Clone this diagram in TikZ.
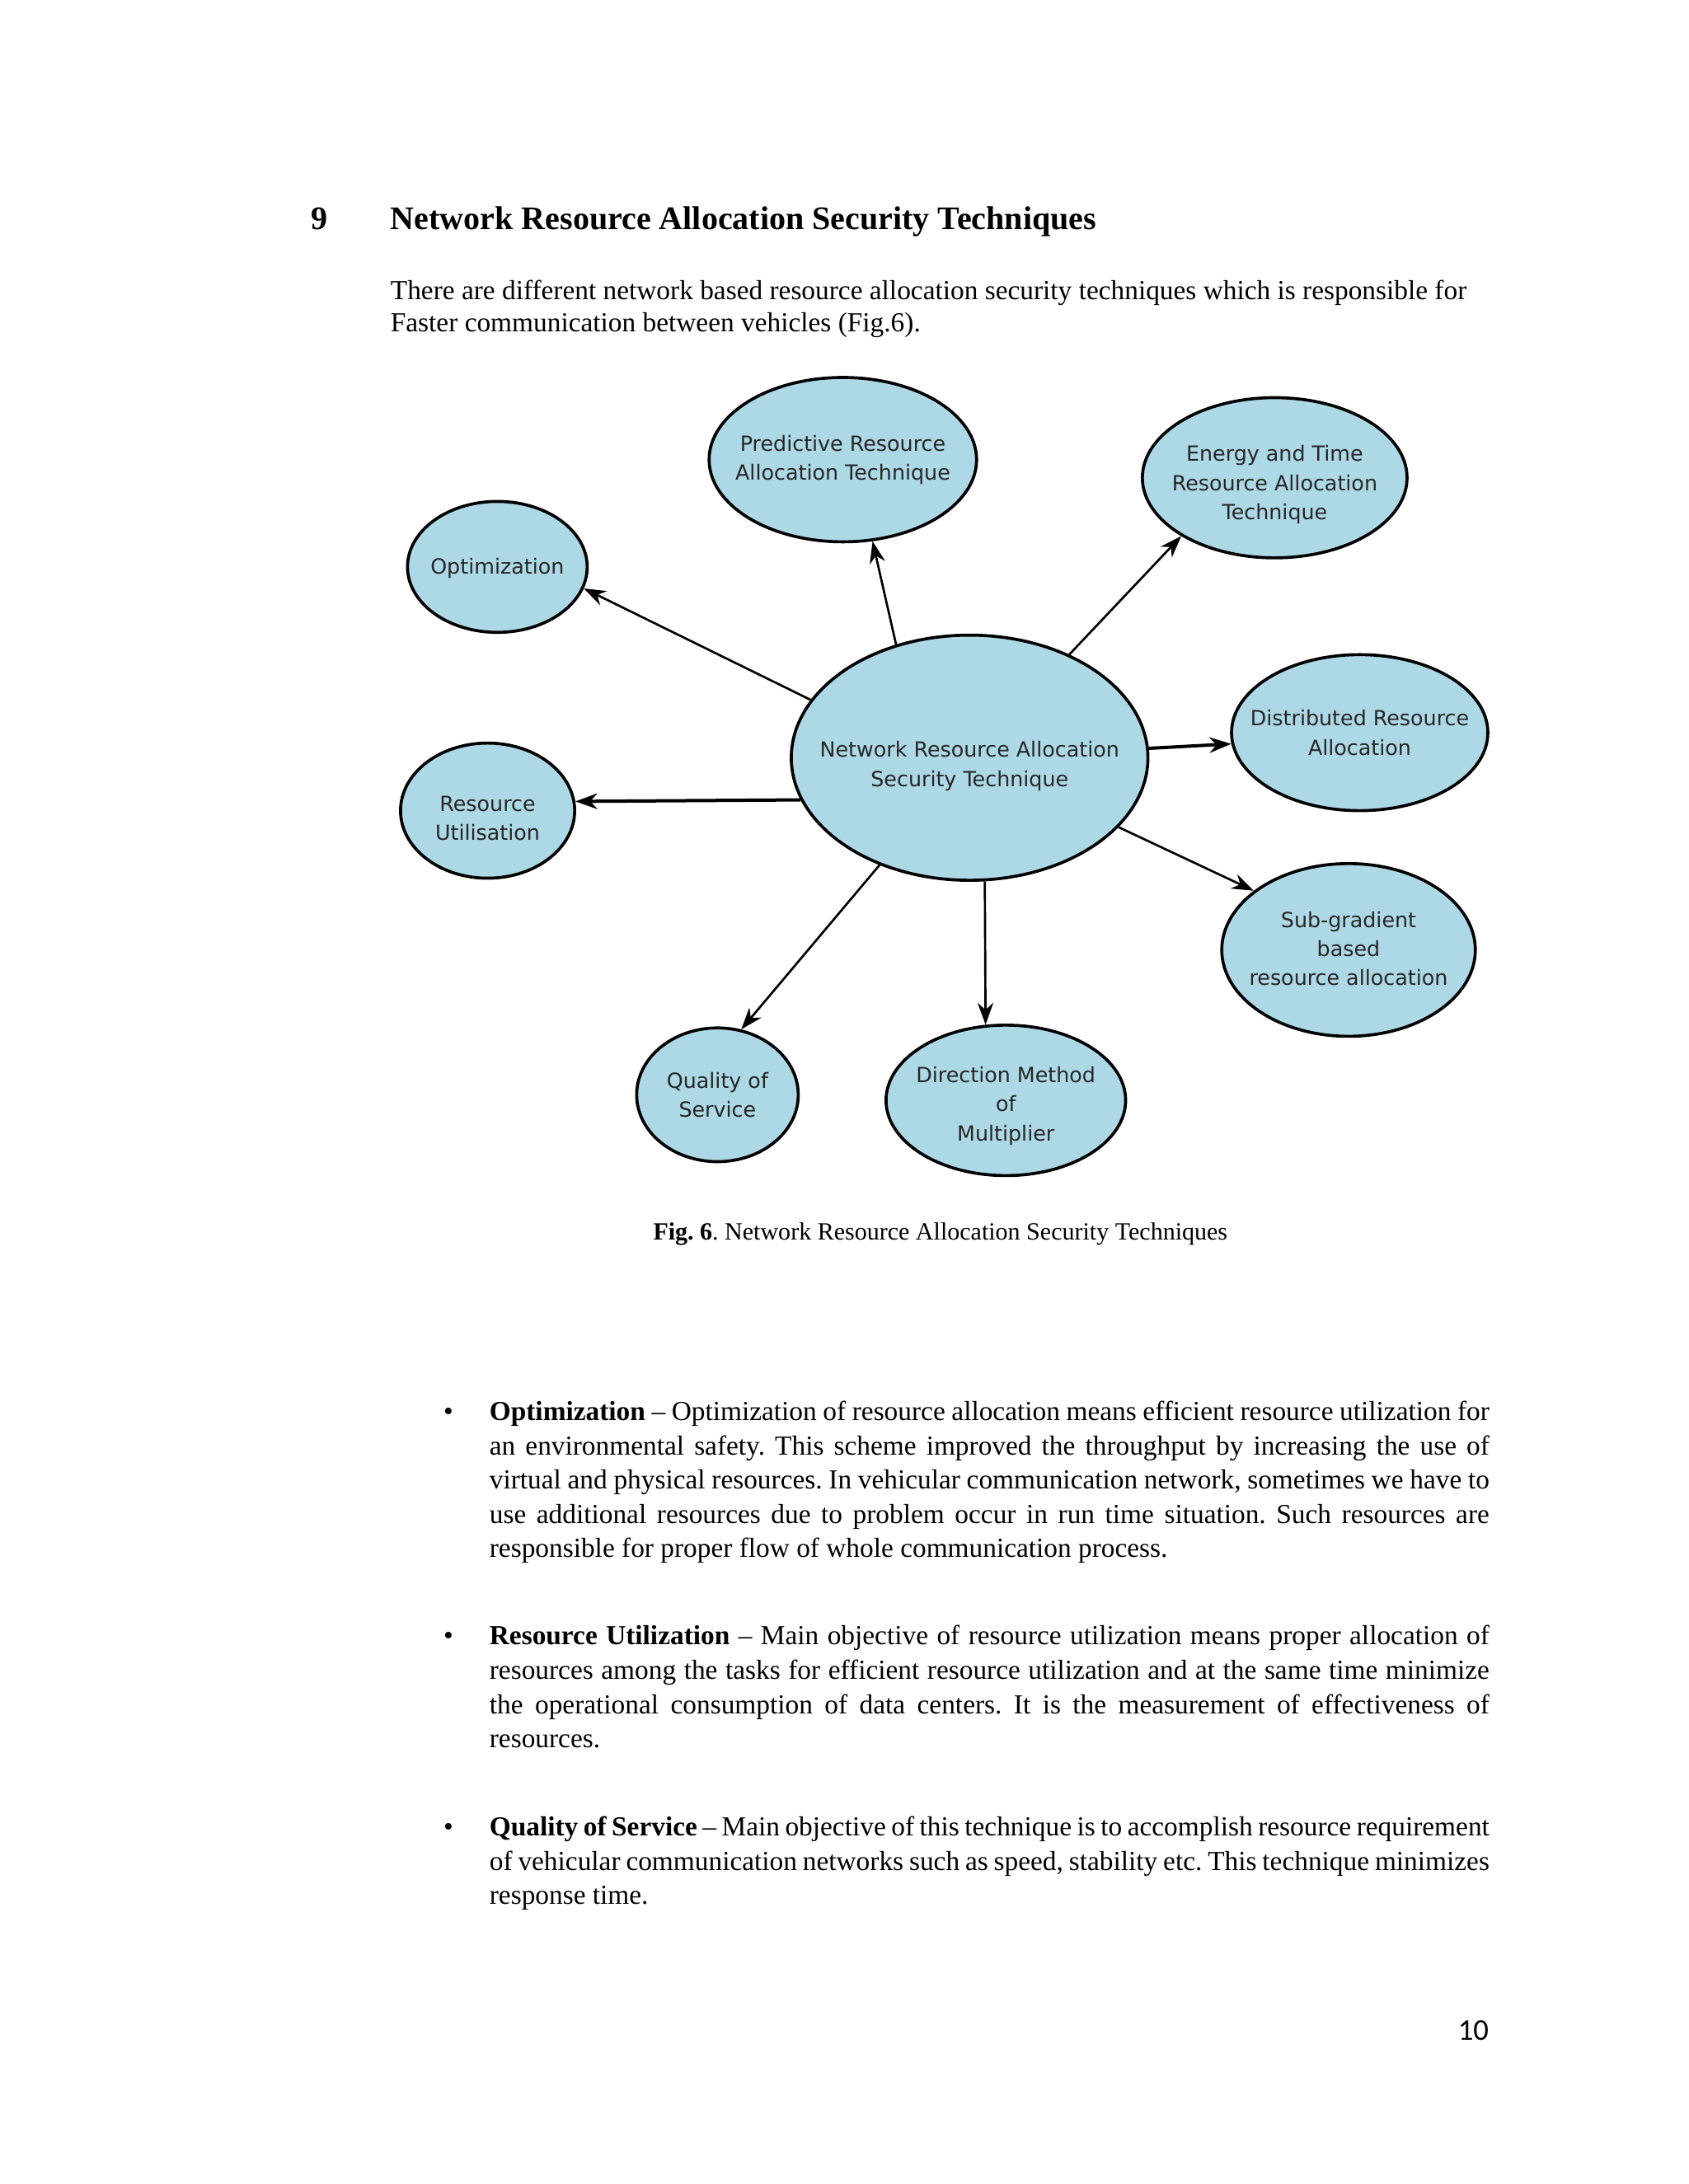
\documentclass[tikz,border=0pt]{standalone}
\usepackage{fontspec}
\setmainfont{Liberation Serif}
\newfontfamily\diagfont{DejaVu Sans}
\newfontfamily\pagefont{Carlito}
\usetikzlibrary{arrows.meta,shapes.geometric}
\definecolor{nodeblue}{HTML}{ADD8E6}
\newcommand{\pxl}{0.017813cm}
\frenchspacing

\begin{document}
\begin{tikzpicture}[x=\pxl,y=-\pxl,
  tech/.style 2 args={ellipse,draw=black,line width=1.1pt,fill=nodeblue,minimum width=#1*\pxl,minimum height=#2*\pxl,inner sep=0pt},
  techtext/.style={font=\diagfont\fontsize{7.6}{10.6}\selectfont,align=center,text=black!85},
  link/.style={-{Stealth[length=2.8mm,width=2mm]},line width=0.8pt},
  heavy/.style={link,line width=1.2pt},
  body/.style={anchor=base west,inner sep=0pt,font=\fontsize{10}{12.45}\selectfont}
]
\useasboundingbox (0,0) rectangle (1212,1568);
\fill[white] (0,0) rectangle (1212,1568);

% heading and intro
\node[body,font=\bfseries\fontsize{12}{14}\selectfont] (secnum) at (223,164.5) {9};
\node[body,font=\bfseries\fontsize{12}{14}\selectfont] (sectitle) at (280,164.5) {Network Resource Allocation Security Techniques};
\node[body,font=\fontsize{10}{11.7}\selectfont] (intro) at (280,215.2) {\parbox[t]{14.2cm}{\raggedright There are different network based resource allocation security techniques which is responsible for\\Faster communication between vehicles (Fig.6).}};

% diagram
\node[tech={256}{176},label={[techtext,yshift=-6*\pxl]center:{Network Resource Allocation\\Security Technique}}] (core) at (696,544) {};
\node[tech={192}{118},label={[techtext]center:{Predictive Resource\\Allocation Technique}}] (pred) at (605,330) {};
\node[tech={190}{115},label={[techtext,yshift=-5*\pxl]center:{Energy and Time\\Resource Allocation\\Technique}}] (energy) at (915,343) {};
\node[tech={129}{94},label={[techtext,yshift=-1*\pxl]center:{Optimization}}] (optim) at (357,407) {};
\node[tech={184}{112},label={[techtext]center:{Distributed Resource\\Allocation}}] (distr) at (976,526) {};
\node[tech={125}{97},label={[techtext,yshift=-5.5*\pxl]center:{Resource\\Utilisation}}] (util) at (350,582) {};
\node[tech={182}{124},label={[techtext,yshift=1*\pxl]center:{Sub-gradient\\based\\resource allocation}}] (subgrad) at (968,682) {};
\node[tech={116}{96},label={[techtext]center:{Quality of\\Service}}] (qos) at (515,786) {};
\node[tech={172}{108},label={[techtext,yshift=-4*\pxl]center:{Direction Method\\of\\Multiplier}}] (admm) at (722,790) {};

\draw[link] (core.160) -- (optim.-14);
\draw[link] (core.123.5) -- (pred.-70);
\draw[link] (core.46.6) -- (energy.-148.5);
\draw[heavy] (core.3.6) -- (distr.185);
\draw[heavy] (core.194) -- (util.6.7);
\draw[link] (core.-25) -- (subgrad.148);
\draw[link] (core.-130) -- (qos.70.6);
\draw[link] (core.-83) -- (admm.105.8);

\node[anchor=base,inner sep=0pt,font=\fontsize{9}{11}\selectfont] (caption) at (675,890) {\textbf{Fig. 6}. Network Resource Allocation Security Techniques};

% bullet list
\node[body] (optdot) at (318,1020) {•};
\node[body] (optpar) at (351,1020) {\parbox[t]{12.78cm}{\textbf{Optimization} -- Optimization of resource allocation means efficient resource utilization for\linebreak an environmental safety. This scheme improved the throughput by increasing the use of\linebreak virtual and physical resources. In vehicular communication network, sometimes we have to\linebreak use additional resources due to problem occur in run time situation. Such resources are\linebreak responsible for proper flow of whole communication process.}};
\node[body] (utildot) at (318,1181) {•};
\node[body] (utilpar) at (351,1181) {\parbox[t]{12.78cm}{\textbf{Resource Utilization} -- Main objective of resource utilization means proper allocation of\linebreak resources among the tasks for efficient resource utilization and at the same time minimize\linebreak the operational consumption of data centers. It is the measurement of effectiveness of\linebreak resources.}};
\node[body] (qosdot) at (318,1318) {•};
\node[body] (qospar) at (351,1318) {\parbox[t]{12.78cm}{\textbf{Quality of Service} -- Main objective of this technique is to accomplish resource requirement\linebreak of vehicular communication networks such as speed, stability etc. This technique minimizes\linebreak response time.}};

\node[anchor=base east,inner sep=0pt,font=\pagefont\fontsize{11}{13}\selectfont] (pagenum) at (1069,1464.7) {10};
\end{tikzpicture}
\end{document}
